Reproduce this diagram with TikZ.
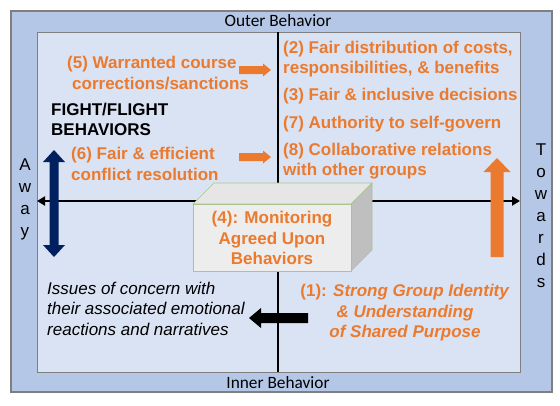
\documentclass[tikz,border=0pt]{standalone}
\usepackage{fontspec}
\setmainfont{Liberation Sans}
\newfontfamily\calfont{Carlito}
\usetikzlibrary{arrows.meta}
\definecolor{orng}{HTML}{EB7A2E}
\definecolor{navyblue}{HTML}{002060}
\definecolor{outerfill}{HTML}{B4C7E7}
\definecolor{innerfill}{HTML}{DAE3F3}
\definecolor{framegray}{HTML}{7F7F7F}
\definecolor{cubefront}{HTML}{EDEDED}
\definecolor{cubetop}{HTML}{E6E6E6}
\definecolor{cubeside}{HTML}{BFBFBF}
\definecolor{cubeline}{HTML}{A9C48F}
\begin{document}
\begin{tikzpicture}[x=1pt,y=-1pt,
  otext/.style={text=orng,font=\fontsize{17}{20.5}\selectfont\bfseries,inner sep=0pt,align=left},
  btext/.style={text=black,font=\fontsize{17}{20}\selectfont\bfseries,inner sep=0pt,align=left},
  itext/.style={text=black,font=\fontsize{17}{20.5}\selectfont\itshape,inner sep=0pt,align=left},
  axlabel/.style={text=black,font=\calfont\fontsize{17.3}{20}\selectfont,inner sep=0pt},
  sidelabel/.style={text=black,font=\fontsize{17}{22}\selectfont,inner sep=0pt,align=center},
  axis/.style={line width=2.5pt,black},
  tipped/.style={{Triangle[length=8pt,width=9pt]}-{Triangle[length=8pt,width=9pt]}}]
\useasboundingbox (0,0) rectangle (560,405);
\fill[white] (0,0) rectangle (560,405);
% frames
\draw[fill=outerfill,draw=framegray,line width=1.2pt] (11,11) rectangle (552,392);
\draw[fill=innerfill,draw=framegray,line width=0.8pt] (37,32) rectangle (520,372);
% axes
\coordinate (axtop) at (278,32);
\coordinate (axbot) at (278,372);
\coordinate (axleft) at (37,201);
\coordinate (axright) at (520,201);
\draw[axis] (axtop) -- (axbot);
\draw[axis,tipped] (axleft) -- (axright);
% axis labels
\node[axlabel] (outer) at (278,21) {Outer Behavior};
\node[axlabel] (inner) at (278,383) {Inner Behavior};
\node[sidelabel] (away) at (25,199.5) {A\\w\\a\\y};
\node[sidelabel] (towards) at (541,216) {T\\o\\w\\a\\r\\d\\s};
% cube
\draw[fill=cubetop,draw=cubeline,line width=0.6pt] (193,204) -- (214,183) -- (372,183) -- (351,204) -- cycle;
\draw[fill=cubeside,draw=cubeline,line width=0.6pt] (351,204) -- (372,183) -- (372,250) -- (351,271) -- cycle;
\draw[fill=cubefront,draw=cubeline,line width=0.6pt] (193,204) rectangle (351,271);
\node[otext,align=center] (monitor) at (272,238) {(4): Monitoring\\Agreed Upon\\Behaviors};
% block arrows
\fill[navyblue] (54,150) -- (65,162) -- (58.5,162) -- (58.5,245) -- (65,245) -- (54,257) -- (43,245) -- (49.5,245) -- (49.5,162) -- (43,162) -- cycle;
\fill[orng] (497,158) -- (510.5,172) -- (503.5,172) -- (503.5,257) -- (490.5,257) -- (490.5,172) -- (483.5,172) -- cycle;
\fill[black] (249,318) -- (261,308) -- (261,313) -- (308,313) -- (308,323) -- (261,323) -- (261,328) -- cycle;
\fill[orng] (239,66) -- (263,66) -- (263,63.5) -- (271,70) -- (263,76.5) -- (263,74) -- (239,74) -- cycle;
\fill[orng] (239,153) -- (263,153) -- (263,150.5) -- (271,157) -- (263,163.5) -- (263,161) -- (239,161) -- cycle;
% texts
\node[otext,anchor=west] (t5) at (67,73) {(5) Warranted course\\\hspace*{5pt}corrections/sanctions};
\node[btext,anchor=west] (fight) at (51,119) {FIGHT/FLIGHT\\BEHAVIORS};
\node[otext,anchor=west] (t6) at (71,164) {(6) Fair \& efficient\\conflict resolution};
\node[otext,anchor=west] (t2) at (283,59) {(2) Fair distribution of costs,\\responsibilities, \& benefits};
\node[otext,anchor=west] (t3) at (283,96) {(3) Fair \& inclusive decisions};
\node[otext,anchor=west] (t7) at (283,124) {(7) Authority to self-govern};
\node[otext,anchor=west] (t8) at (283,161) {(8) Collaborative relations\\with other groups};
\node[itext,anchor=west] (issues) at (47,308.5) {Issues of concern with\\their associated emotional\\reactions and narratives};
\node[otext,align=center] (t1) at (405,313) {(1): \textit{Strong Group Identity}\\\textit{\& Understanding}\\\textit{of Shared Purpose}};
\end{tikzpicture}
\end{document}
